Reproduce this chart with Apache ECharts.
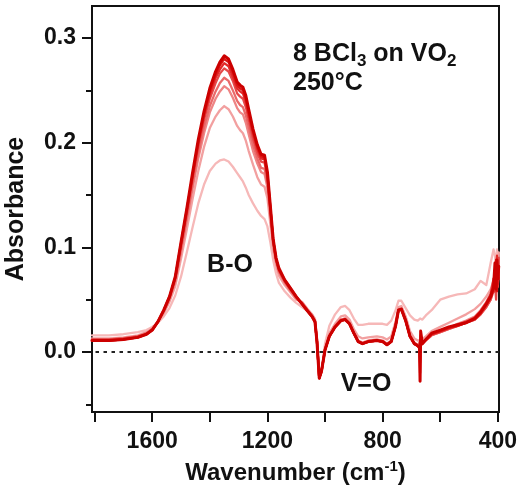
<!DOCTYPE html>
<html>
<head>
<meta charset="utf-8">
<script src="https://cdn.jsdelivr.net/npm/echarts@6/dist/echarts.min.js"></script>
<style>
html,body{margin:0;padding:0;background:#fff;}
#chart{width:520px;height:489px;}
</style>
</head>
<body>
<div id="chart"></div>
<script>
// Wavenumber (cm-1) sampling points shared by all spectra
const wavenumbers = [1809,1750,1700,1650,1620, 1600,1580,1560,1540,1520, 1500,1480,1460,1440,1420,
  1400,1380,1365,1350,1335, 1320,1305,1295,1285,1275, 1265,1250,1235,1222,1210,
  1200,1190,1180,1170,1160, 1140,1120,1100,1080,1060, 1045,1035,1028,1020,1012,
  1000,985,965,945,930, 915,900,885,870,850, 820,800,785,770,755,
  745,735,720,705,690, 678,672,670,668,662, 650,630,600,570,540,
  510,480,460,440,425, 415,410,406,403,400, 397];

// Absorbance spectra, cycle 1 (lightest) to cycle 8 (darkest)
const cycle1 = [.016,.016,.017,.019,.021, .024,.028,.034,.042,.054, .072,.095,.119,.142,.160,
  .173,.180,.183,.184,.182, .177,.171,.167,.163,.157, .150,.142,.135,.130,.127,
  .120,.105,.088,.075,.066, .058,.052,.047,
  .043,.039,.036,.032,.012,-.024,-.020,.008,.025,.036,.043,.044,.040,.032,.026,.026,.027,.027,.027,.026,.030,.040,.049,.049,.042,.035,.031,.030,.030,.032,.031,.031,
  .035,.040,.050,.053,.055,.056,.060,.068,.064,.085,.098,.092,.080,.098,.085,.095];
const cycle2 = [.013,.013,.014,.016,.019, .022,.029,.037,.048,.063, .089,.117,.146,.173,.196,
  .214,.225,.231,.235,.232, .225,.216,.212,.209,.202, .192,.179,.167,.160,.158,
  .147,.123,.098,.083,.073, .064,.057,.050,
  .048,.041,.036,.031,.012,-.025,-.018,.004,.018,.027,.034,.035,.031,.022,.015,.013,.014,.015,.014,.012,.015,.029,.043,.044,.034,.020,.013,.011,.010,.010,.011,.012,
  .015,.020,.024,.028,.032,.036,.041,.046,.053,.060,.068,.078,.066,.090,.074,.095];
const cycle3 = [.012,.012,.013,.015,.018, .022,.029,.038,.050,.067, .095,.125,.156,.185,.209,
  .229,.242,.249,.254,.251, .243,.233,.229,.227,.219, .208,.192,.180,.172,.170,
  .157,.130,.102,.086,.076, .066,.058,.051,
  .047,.040,.035,.030,.011,-.025,-.018,.003,.016,.025,.031,.032,.028,.019,.011,.009,.011,.012,.011,.008,.011,.026,.041,.042,.031,.016,.009,.007,.006,.008,.007,.009,
  .012,.017,.020,.023,.027,.030,.034,.040,.048,.056,.066,.078,.058,.085,.064,.088];
const cycle4 = [.012,.012,.013,.015,.018, .022,.029,.039,.051,.068, .098,.128,.160,.190,.215,
  .235,.249,.257,.262,.259, .250,.240,.236,.234,.226, .215,.198,.185,.176,.175,
  .161,.133,.104,.087,.077, .067,.059,.052,
  .047,.040,.034,.030,.010,-.025,-.019,.002,.015,.025,.031,.032,.027,.018,.010,.008,.010,.011,.010,.007,.010,.025,.040,.041,.030,.015,.008,.006,.005,.007,.006,.008,
  .011,.016,.019,.022,.025,.028,.031,.036,.043,.050,.062,.072,.060,.082,.068,.075];
const cycle5 = [.012,.012,.013,.015,.017, .021,.029,.039,.052,.070, .101,.132,.165,.196,.222,
  .242,.257,.266,.271,.268, .259,.247,.244,.242,.234, .222,.204,.190,.182,.181,
  .166,.136,.106,.088,.078, .068,.060,.052,
  .046,.039,.034,.029,.010,-.025,-.018,.002,.015,.024,.030,.031,.027,.018,.010,.008,.010,.011,.010,.007,.010,.025,.040,.041,.030,.015,.008,.006,.005,.010,.006,.008,
  .011,.016,.019,.022,.025,.028,.031,.036,.043,.050,.058,.066,.050,.075,.062,.090];
const cycle6 = [.011,.011,.012,.014,.017, .021,.029,.040,.052,.071, .103,.134,.167,.199,.225,
  .246,.262,.270,.276,.273, .263,.252,.249,.247,.239, .226,.208,.194,.185,.184,
  .168,.138,.107,.089,.079, .068,.060,.053,
  .046,.039,.034,.029,.010,-.025,-.018,.002,.015,.024,.030,.031,.027,.018,.010,.008,.010,.011,.010,.007,.010,.025,.040,.041,.030,.015,.008,.006,.004,-.010,.012,.008,
  .012,.017,.020,.023,.026,.029,.033,.039,.047,.055,.070,.058,.080,.092,.065,.078];
const cycle7 = [.011,.011,.012,.014,.017, .021,.029,.040,.053,.071, .104,.136,.169,.201,.228,
  .249,.265,.274,.280,.277, .267,.255,.252,.250,.242, .229,.211,.196,.187,.186,
  .170,.139,.107,.089,.079, .069,.061,.053,
  .046,.039,.034,.029,.010,-.025,-.018,.002,.015,.024,.030,.031,.027,.018,.010,.008,.010,.011,.010,.007,.010,.025,.040,.041,.030,.015,.008,.006,.004,-.020,.016,.008,
  .012,.017,.020,.023,.025,.028,.032,.037,.045,.052,.060,.075,.088,.058,.080,.070];
const cycle8 = [.011,.011,.012,.014,.017, .021,.029,.040,.053,.072, .105,.137,.171,.203,.230,
  .252,.268,.277,.283,.280, .270,.258,.255,.253,.245, .232,.213,.198,.189,.188,
  .172,.140,.108,.090,.080, .069,.061,.053,
  .046,.039,.034,.029,.010,-.025,-.018,.002,.015,.024,.030,.031,.027,.018,.010,.008,.010,.011,.010,.007,.010,.025,.040,.041,.030,.015,.008,.006,.004,-.028,.020,.008,
  .012,.018,.021,.024,.026,.028,.032,.038,.046,.053,.062,.085,.060,.088,.070,.082];

const spectra = [cycle1, cycle2, cycle3, cycle4, cycle5, cycle6, cycle7, cycle8];
const spectrumNames = ['1','2','3','4','5','6','7','8'];
const colors = ['#f6b8b8','#f2a0a0','#ee8585','#ea6a6a','#e64a4a','#e22a2a','#dc1414','#cc0000'];

const yLabelTicks = [0, 0.1, 0.2, 0.3];
const yMinorTicks = [-0.05, 0.05, 0.15, 0.25];
const xLabelTicks = [400, 800, 1200, 1600];
const xAllTicks = [400, 600, 800, 1000, 1200, 1400, 1600, 1800];
const zeroLevel = 0;

const FONT = '"Liberation Sans", Arial, sans-serif';

const series = spectra.map((arr, k) => ({
  name: spectrumNames[k],
  type: 'line',
  xAxisIndex: 0,
  yAxisIndex: 0,
  symbol: 'none',
  smooth: false,
  data: wavenumbers.map((w, i) => [w, arr[i]]),
  lineStyle: { color: colors[k], width: k === 7 ? 3 : 2.3, join: 'round', cap: 'round' },
  z: 3 + k,
  markLine: k === 0 ? {
    silent: true, symbol: 'none', label: { show: false },
    lineStyle: { color: '#222', type: [3.5, 4.5], width: 2 },
    data: [{ yAxis: zeroLevel }]
  } : undefined
}));

const chart = echarts.init(document.getElementById('chart'), null, { renderer: 'canvas' });
chart.setOption({
  animation: false,
  backgroundColor: '#fff',
  grid: { left: 92, right: 21, top: 6, bottom: 77, containLabel: false, outerBoundsMode: 'none',
    show: true, borderColor: '#111', borderWidth: 2, backgroundColor: 'transparent' },
  xAxis: [{
    type: 'value', inverse: true, min: 396, max: 1809,
    axisLine: { show: true, onZero: false, lineStyle: { color: '#111', width: 2 } },
    axisTick: { show: true, length: 10, inside: false, customValues: xAllTicks, lineStyle: { color: '#111', width: 2 } },
    axisLabel: { customValues: xLabelTicks, margin: 18, color: '#111', fontFamily: FONT, fontWeight: 'bold', fontSize: 23,
      formatter: v => String(Math.round(v)), hideOverlap: false },
    splitLine: { show: false },
    name: 'Wavenumber (cm{sup|-1})',
    nameLocation: 'middle', nameGap: 47,
    nameTextStyle: {
      color: '#111', fontFamily: FONT, fontWeight: 'bold', fontSize: 24, lineHeight: 28,
      rich: { sup: { fontFamily: FONT, fontWeight: 'bold', fontSize: 15, lineHeight: 15, verticalAlign: 'top', color: '#111' } }
    }
  }],
  yAxis: [{
    type: 'value', min: -0.0573, max: 0.3306,
    axisLine: { show: true, onZero: false, lineStyle: { color: '#111', width: 2 } },
    axisTick: { show: true, length: 10, customValues: yLabelTicks, lineStyle: { color: '#111', width: 2 } },
    axisLabel: { customValues: yLabelTicks, margin: 16, color: '#111', fontFamily: FONT, fontWeight: 'bold', fontSize: 23,
      formatter: v => v.toFixed(1) },
    splitLine: { show: false },
    name: 'Absorbance', nameLocation: 'middle', nameGap: 63, nameRotate: 90,
    nameTextStyle: { color: '#111', fontFamily: FONT, fontWeight: 'bold', fontSize: 25 }
  }, {
    type: 'value', min: -0.0573, max: 0.3306, position: 'left',
    axisLine: { show: false },
    axisTick: { show: true, length: 6, customValues: yMinorTicks, lineStyle: { color: '#111', width: 2 } },
    axisLabel: { show: false },
    splitLine: { show: false }
  }],
  series: series,
  graphic: [
    { type: 'text', x: 293, y: 54, z: 20,
      style: { text: '8 BCl{s|3} on VO{s|2}', fill: '#111', fontFamily: FONT, fontWeight: 'bold', fontSize: 25,
        verticalAlign: 'middle', align: 'left',
        rich: { s: { fontFamily: FONT, fontWeight: 'bold', fontSize: 17, fill: '#111', padding: [14, 0, 0, 0] } } } },
    { type: 'text', x: 293, y: 83, z: 20,
      style: { text: '250°C', fill: '#111', fontFamily: FONT, fontWeight: 'bold', fontSize: 25, verticalAlign: 'middle', align: 'left' } },
    { type: 'text', x: 230, y: 265, z: 20,
      style: { text: 'B-O', fill: '#111', fontFamily: FONT, fontWeight: 'bold', fontSize: 25, verticalAlign: 'middle', align: 'center' } },
    { type: 'text', x: 366, y: 384, z: 20,
      style: { text: 'V=O', fill: '#111', fontFamily: FONT, fontWeight: 'bold', fontSize: 25, verticalAlign: 'middle', align: 'center' } }
  ]
});
</script>
</body>
</html>
